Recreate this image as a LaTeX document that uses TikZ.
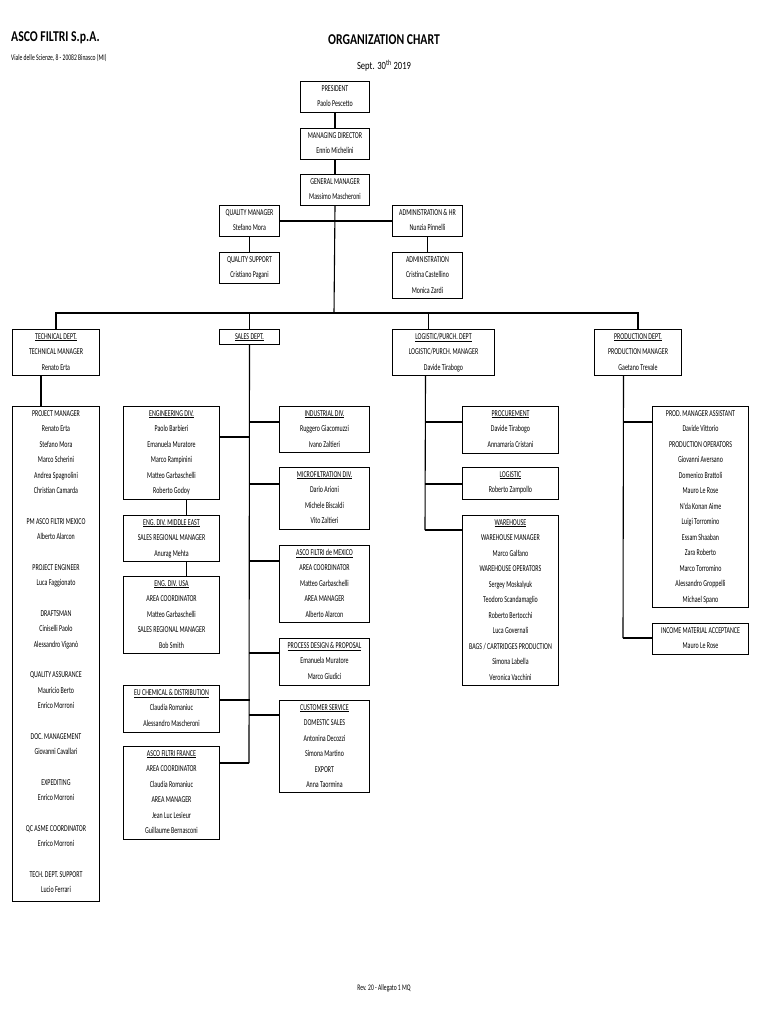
\documentclass[tikz,border=0pt]{standalone}
\usepackage{fontspec}
\setmainfont{Carlito}
\newfontfamily\cf[FakeStretch=0.66]{Carlito}
\newfontfamily\cft[FakeStretch=0.78]{Carlito}
\begin{document}
\begin{tikzpicture}[x=1pt,y=-1pt,
  box/.style={draw,line width=1pt,inner sep=0pt,anchor=north west},
  txt/.style={anchor=north,align=center,inner sep=0pt,yshift=-4pt,font=\cf\fontsize{9}{15.5}\selectfont},
  ln/.style={line width=1.1pt}]
\newcommand\obox[6]{%
  \node[box,minimum width={#4pt-#2pt},minimum height={#5pt-#3pt}] (#1) at (#2,#3) {};
  \node[txt] at (#1.north) {#6};}
\newcommand\ul[1]{\underline{#1}}
\useasboundingbox (0,0) rectangle (768,1024);
\fill[white] (0,0) rectangle (768,1024);
% header
\node[anchor=west,inner sep=0pt,font=\cft\bfseries\fontsize{15}{15}\selectfont] (t1) at (11,38) {ASCO FILTRI S.p.A.};
\node[anchor=west,inner sep=0pt,font=\cf\fontsize{8.5}{9}\selectfont] (t2) at (11,58) {Viale delle Scienze, 8 - 20082 Binasco (MI)};
\node[inner sep=0pt,font=\cft\bfseries\fontsize{15}{15}\selectfont] (t3) at (384,40) {ORGANIZATION CHART};
\node[inner sep=0pt,font=\cft\fontsize{11}{11}\selectfont] (t4) at (384,66) {Sept. 30\textsuperscript{th} 2019};
\node[inner sep=0pt,font=\cf\fontsize{8.5}{9}\selectfont] (t5) at (384,988) {Rev. 20 - Allegato 1 MQ};
% top
\obox{pres}{300}{81}{369}{112}{PRESIDENT\\Paolo Pescetto}
\obox{md}{300}{128}{369}{159}{MANAGING DIRECTOR\\Ennio Michelini}
\obox{gm}{300}{174}{369}{205}{GENERAL MANAGER\\Massimo Mascheroni}
\obox{qm}{219}{205}{279}{236}{QUALITY MANAGER\\Stefano Mora}
\obox{ahr}{392}{205}{462}{236}{ADMINISTRATION \& HR\\Nunzia Pinnelli}
\obox{qs}{219}{252}{279}{283}{QUALITY SUPPORT\\Cristiano Pagani}
\obox{adm}{392}{252}{462}{298}{ADMINISTRATION\\Cristina Castellino\\Monica Zardi}
% departments
\obox{tech}{12}{329}{99}{375}{\ul{TECHNICAL DEPT.}\\TECHNICAL MANAGER\\Renato Erta}
\obox{sales}{219}{329}{279}{344}{\ul{SALES DEPT.}}
\obox{logd}{392}{329}{494}{375}{\ul{LOGISTIC/PURCH. DEPT}\\LOGISTIC/PURCH. MANAGER\\Davide Tirabogo}
\obox{prod}{594}{329}{681}{375}{\ul{PRODUCTION DEPT.}\\PRODUCTION MANAGER\\Gaetano Trevale}
% technical
\obox{pm}{12}{406}{99}{901}{PROJECT MANAGER\\Renato Erta\\Stefano Mora\\Marco Scherini\\Andrea Spagnolini\\Christian Camarda\\[15pt]PM ASCO FILTRI MEXICO\\Alberto Alarcon\\[15pt]PROJECT ENGINEER\\Luca Faggionato\\[15pt]DRAFTSMAN\\Ciniselli Paolo\\Alessandro Vigan\`o\\[15pt]QUALITY ASSURANCE\\Mauricio Berto\\Enrico Morroni\\[15pt]DOC. MANAGEMENT\\Giovanni Cavallari\\[15pt]EXPEDITING\\Enrico Morroni\\[15pt]QC ASME COORDINATOR\\Enrico Morroni\\[15pt]TECH. DEPT. SUPPORT\\Lucio Ferrari}
% sales left
\obox{eng}{123}{406}{219}{499}{\ul{ENGINEERING DIV.}\\Paolo Barbieri\\Emanuela Muratore\\Marco Rampinini\\Matteo Garbaschelli\\Roberto Godoy}
\obox{engme}{123}{515}{219}{561}{\ul{ENG. DIV. MIDDLE EAST}\\SALES REGIONAL MANAGER\\Anurag Mehta}
\obox{engus}{123}{576}{219}{653}{\ul{ENG. DIV. USA}\\AREA COORDINATOR\\Matteo Garbaschelli\\SALES REGIONAL MANAGER\\Bob Smith}
\obox{euc}{123}{685}{219}{732}{\ul{EU CHEMICAL \& DISTRIBUTION}\\Claudia Romaniuc\\Alessandro Mascheroni}
\obox{fr}{123}{746}{219}{839}{\ul{ASCO FILTRI FRANCE}\\AREA COORDINATOR\\Claudia Romaniuc\\AREA MANAGER\\Jean Luc Lesieur\\Guillaume Bernasconi}
% sales right
\obox{ind}{279}{406}{369}{452}{\ul{INDUSTRIAL DIV.}\\Ruggero Giacomuzzi\\Ivano Zaltieri}
\obox{mic}{279}{467}{369}{529}{\ul{MICROFILTRATION DIV.}\\Dario Arioni\\Michele Biscaldi\\Vito Zaltieri}
\obox{mex}{279}{545}{369}{622}{\ul{ASCO FILTRI de MEXICO}\\AREA COORDINATOR\\Matteo Garbaschelli\\AREA MANAGER\\Alberto Alarcon}
\obox{pdp}{279}{638}{369}{685}{\ul{PROCESS DESIGN \& PROPOSAL}\\Emanuela Muratore\\Marco Giudici}
\obox{cs}{279}{700}{369}{792}{\ul{CUSTOMER SERVICE}\\DOMESTIC SALES\\Antonina Decozzi\\Simona Martino\\EXPORT\\Anna Taormina}
% logistic
\obox{proc}{462}{406}{558}{453}{\ul{PROCUREMENT}\\Davide Tirabogo\\Annamaria Cristani}
\obox{lgs}{462}{467}{558}{499}{\ul{LOGISTIC}\\Roberto Zampollo}
\obox{wh}{462}{515}{558}{685}{\ul{WAREHOUSE}\\WAREHOUSE MANAGER\\Marco Galfano\\WAREHOUSE OPERATORS\\Sergey Moskalyuk\\Teodoro Scandamaglio\\Roberto Bertocchi\\Luca Governali\\BAGS / CARTRIDGES PRODUCTION\\Simona Labella\\Veronica Vacchini}
% production
\obox{pma}{652}{406}{748}{607}{PROD. MANAGER ASSISTANT\\Davide Vittorio\\PRODUCTION OPERATORS\\Giovanni Aversano\\Domenico Brattoli\\Mauro Le Rose\\N'da Konan Aime\\Luigi Torromino\\Essam Shaaban\\Zara Roberto\\Marco Torromino\\Alessandro Groppelli\\Michael Spano}
\obox{ima}{652}{623}{748}{654}{INCOME MATERIAL ACCEPTANCE\\Mauro Le Rose}
% connectors
\coordinate (bus) at (334,313);
\draw[ln] (pres.south) -- (md.north);
\draw[ln] (md.south) -- (gm.north);
\draw[ln] (gm.south) -- (bus);
\draw[ln] (qm.east) -- (ahr.west);
\draw[ln] (qm.south) -- (qs.north);
\draw[ln] (ahr.south) -- (adm.north);
\draw[ln] (tech.north) |- (bus) -| (prod.north);
\draw[ln] (sales.north) -- (sales.north |- bus);
\draw[ln] ([xshift=-15pt]logd.north) -- ([xshift=-15pt]logd.north |- bus);
\draw[ln] ([xshift=-15pt]tech.south) -- ([xshift=-15pt]pm.north);
% sales
\coordinate (send) at (249,763);
\draw[ln] (sales.south) -- (send);
\draw[ln] ([yshift=-16pt]ind.north west) -- ++(-30,0);
\draw[ln] ([yshift=-17pt]mic.north west) -- ++(-30,0);
\draw[ln] ([yshift=-16pt]mex.north west) -- ++(-30,0);
\draw[ln] ([yshift=-15pt]pdp.north west) -- ++(-30,0);
\draw[ln] ([yshift=-15pt]cs.north west) -- ++(-30,0);
\draw[ln] ([yshift=-31pt]eng.north east) -- ++(30,0);
\draw[ln] ([yshift=-15pt]euc.north east) -- ++(30,0);
\draw[ln] ([yshift=-17pt]fr.north east) -- (send);
\draw[ln] ([xshift=15pt]eng.south) -- ([xshift=15pt]engme.north);
\draw[ln] ([xshift=15pt]engme.south) -- ([xshift=15pt]engus.north);
% logistic
\coordinate (lend) at (425,530);
\draw[ln] ([xshift=-18pt]logd.south) -- (lend);
\draw[ln] ([yshift=-16pt]proc.north west) -- ++(-37,0);
\draw[ln] ([yshift=-17pt]lgs.north west) -- ++(-37,0);
\draw[ln] ([yshift=-15pt]wh.north west) -- (lend);
% production
\coordinate (pend) at (623,638);
\draw[ln] ([xshift=-14.5pt]prod.south) -- (pend);
\draw[ln] ([yshift=-16pt]pma.north west) -- ++(-29,0);
\draw[ln] ([yshift=-15pt]ima.north west) -- (pend);
\end{tikzpicture}
\end{document}
